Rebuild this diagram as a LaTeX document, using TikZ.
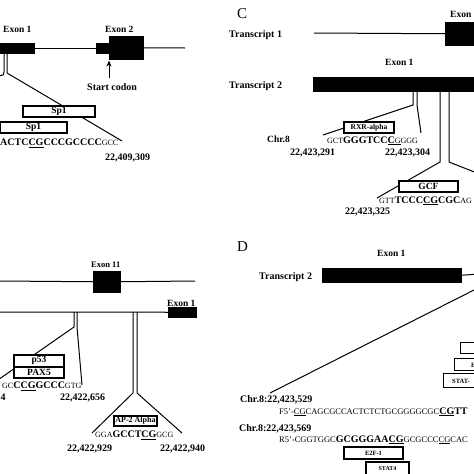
\documentclass[tikz,border=0pt]{standalone}
\usepackage{fontspec}
\setmainfont{Liberation Serif}
\usetikzlibrary{arrows.meta}
\newcommand\fsz[1]{\fontsize{#1}{#1}\selectfont}
\newcommand\bseq[1]{{\fsz{10}\bfseries #1}}
\newcommand\sseq[1]{{\fsz{8}#1}}
\newcommand\dseq[1]{{\fsz{8.5}#1}}
\newcommand\ucg[1]{\underline{#1}}
\tikzset{
  ln/.style={line width=1pt},
  exon/.style={fill=black,draw=black,line width=0.5pt,inner sep=0pt,anchor=north west},
  tf/.style={draw=black,line width=1.1pt,fill=white,inner sep=0pt},
  lbl/.style={anchor=base west,inner sep=0pt,font=\bfseries\fsz{9.5}},
  num/.style={anchor=base west,inner sep=0pt,font=\bfseries\fsz{10}},
  seq/.style={anchor=base west,inner sep=0pt},
  panel/.style={anchor=base west,inner sep=0pt,font=\fsz{15}},
  arr/.style={line width=1pt,-{Stealth[length=6pt,width=5pt]}}
}
\begin{document}
\begin{tikzpicture}[x=1pt,y=-1pt]
\clip (0,0) rectangle (474,474);
\fill[white] (0,0) rectangle (474,474);

% ---------------- Panel A (top left) ----------------
\coordinate (aEnd) at (185,48);
\coordinate (aV1t) at (4,53);
\coordinate (aV1b) at (4,72);
\coordinate (aV1e) at (-2,76);
\coordinate (aV2t) at (7,53);
\coordinate (aV2b) at (7,73);
\coordinate (aV2e) at (122,141);
\coordinate (aArr) at (109,78);
\coordinate (aArrTip) at (109,60.5);
\draw[ln] (aV1t) -- (aV1b) .. controls (4,75) .. (aV1e);
\draw[ln] (aV2t) -- (aV2b) -- (aV2e);
\node[exon,minimum width=34pt,minimum height=10pt] (aE1) at (0,43) {};
\node[exon,minimum width=14pt,minimum height=10pt] (aE2s) at (96,43) {};
\node[exon,minimum width=34pt,minimum height=23pt] (aE2) at (109,36) {};
\draw[ln] (aE1.east) -- (aE2s.west);
\draw[ln] (aE2.east) -- (aEnd);
\draw[arr] (aArr) -- (aArrTip);
\node[lbl] (aL1) at (3,32.5) {Exon 1};
\node[lbl] (aL2) at (105,32.5) {Exon 2};
\node[lbl,font=\bfseries\fsz{10}] (aSC) at (87,90.5) {Start codon};
\node[tf,minimum width=72pt,minimum height=11pt,font=\bfseries\fsz{9.5}] (aSp1a) at (59,111.5) {Sp1};
\node[tf,minimum width=67pt,minimum height=11pt,font=\bfseries\fsz{9.5}] (aSp1b) at (33.5,127.5) {Sp1};
\node[seq] (aSeq) at (0,145.5) {\bseq{ACTC\ucg{CG}CCCGCCCC}\sseq{GCC}};
\node[num] (aN) at (105,160.5) {22,409,309};

% ---------------- Panel C (top right) ----------------
\node[panel] (cLet) at (237,18) {C};
\node[lbl,font=\bfseries\fsz{10}] (cT1) at (229,37) {Transcript 1};
\coordinate (cT1s) at (314,33);
\node[exon,minimum width=40pt,minimum height=23pt] (cE) at (445,22) {};
\draw[ln] (cT1s) -- (cE.west);
\node[lbl] (cEl) at (450,17) {Exon};
\node[lbl] (cE1l) at (385,65) {Exon 1};
\node[lbl,font=\bfseries\fsz{10}] (cT2) at (229,88) {Transcript 2};
\coordinate (c1t) at (413,91); \coordinate (c1m) at (413,105); \coordinate (c1e) at (323,135);
\coordinate (c2t) at (417,91); \coordinate (c2m) at (417,105); \coordinate (c2e) at (421,133);
\coordinate (c3t) at (440,91); \coordinate (c3m) at (440,162); \coordinate (c3e) at (377,198);
\coordinate (c4t) at (449,91); \coordinate (c4m) at (449,162); \coordinate (c4e) at (482,175);
\draw[ln] (c1t) -- (c1m) -- (c1e);
\draw[ln] (c2t) -- (c2m) -- (c2e);
\draw[ln] (c3t) -- (c3m) -- (c3e);
\draw[ln] (c4t) -- (c4m) -- (c4e);
\node[exon,minimum width=170pt,minimum height=14pt] (cE1) at (313,77) {};
\node[tf,minimum width=50pt,minimum height=11pt,font=\bfseries\fsz{7.5}] (cRXR) at (369,127.5) {RXR-alpha};
\node[tf,minimum width=59pt,minimum height=11pt,font=\bfseries\fsz{9.5}] (cGCF) at (428.5,186.5) {GCF};
\node[num,font=\bfseries\fsz{9.5}] (cChr) at (267,142) {Chr.8};
\node[seq] (cSeq1) at (327,143) {\sseq{GCT}\bseq{GGGTCC}\underline{\bseq{C}\sseq{G}}\sseq{GGG}};
\node[num] (cN1) at (290,155) {22,423,291};
\node[num] (cN2) at (385,155) {22,423,304};
\node[seq] (cSeq2) at (379,203) {\sseq{GTT}\bseq{TCCC\ucg{CG}CGC}\sseq{AG}};
\node[num] (cN3) at (345,214) {22,423,325};

% ---------------- Panel B (bottom left) ----------------
\node[lbl,font=\bfseries\fsz{8.5}] (bL11) at (91,267) {Exon 11};
\coordinate (bL1s) at (0,281);
\coordinate (bL1e) at (195,281);
\coordinate (bL2s) at (0,312);
\node[exon,minimum width=27pt,minimum height=21pt] (bE11) at (93,271) {};
\node[exon,minimum width=28pt,minimum height=10pt] (bE1) at (168,307) {};
\draw[ln] (bL1s) -- (bE11.west);
\draw[ln] (bE11.east) -- (bL1e);
\draw[ln] (bL2s) -- (bE1.west);
\node[lbl] (bL1) at (167,306) {Exon 1};
\coordinate (b1t) at (74,312); \coordinate (b1m) at (74,327); \coordinate (b1e) at (0,378.5);
\coordinate (b2t) at (77,312); \coordinate (b2m) at (77,327); \coordinate (b2e) at (82,385);
\coordinate (b3t) at (133,312); \coordinate (b3m) at (133,393); \coordinate (b3e) at (92,433);
\coordinate (b4t) at (137,312); \coordinate (b4m) at (137,393); \coordinate (b4e) at (182,433);
\draw[ln] (b1t) -- (b1m) -- (b1e);
\draw[ln] (b2t) -- (b2m) -- (b2e);
\draw[ln] (b3t) -- (b3m) -- (b3e);
\draw[ln] (b4t) -- (b4m) -- (b4e);
\node[tf,minimum width=50pt,minimum height=11.5pt,font=\bfseries\fsz{9.5}] (bP53) at (39,360.75) {p53};
\node[tf,minimum width=50pt,minimum height=11.5pt,font=\bfseries\fsz{9.5}] (bPAX) at (39,372.25) {PAX5};
\draw[line width=2.2pt] (bP53.south west) -- (bP53.south east);
\node[seq] (bSeq1) at (2,388.5) {\sseq{GC}\bseq{C\ucg{CG}GCCC}\sseq{GTG}};
\node[num] (bN0) at (0.5,400) {4};
\node[num] (bN1) at (60,400) {22,422,656};
\node[tf,minimum width=43pt,minimum height=10pt,font=\bfseries\fsz{8}] (bAP) at (135.5,421) {AP-2 Alpha};
\node[seq] (bSeq2) at (95,437.5) {\sseq{GGA}\bseq{GCCT\ucg{CG}}\sseq{GCG}};
\node[num] (bN2) at (67,451) {22,422,929};
\node[num] (bN3) at (160,451) {22,422,940};

% ---------------- Panel D (bottom right) ----------------
\node[panel] (dLet) at (237,251.5) {D};
\node[lbl] (dE1l) at (377,256) {Exon 1};
\node[lbl,font=\bfseries\fsz{10}] (dT2) at (259,279) {Transcript 2};
\node[exon,minimum width=139pt,minimum height=14pt] (dE1) at (322,268) {};
\coordinate (dLe) at (480,274);
\draw[ln] (dE1.east) -- (dLe);
\coordinate (dDs) at (480,287);
\coordinate (dDe) at (270,393);
\draw[ln] (dDs) -- (dDe);
\node[tf,minimum width=24pt,minimum height=11pt,anchor=north west] (dB1) at (460,342) {};
\node[tf,minimum width=30pt,minimum height=12pt,anchor=north west] (dB2) at (454,358) {};
\node[tf,minimum width=41pt,minimum height=14pt,anchor=north west] (dB3) at (443,373) {};
\node[anchor=base west,inner sep=0pt,font=\bfseries\fsz{6.5}] (dB2t) at (471,367) {E};
\node[anchor=base west,inner sep=0pt,font=\bfseries\fsz{6.5}] (dB3t) at (452,383) {STAT-};
\node[num] (dC1) at (240,402) {Chr.8:22,423,529};
\node[seq] (dF) at (279,414) {\dseq{F5'-\ucg{CG}CAGCGCCACTCTCTGCGGGGCGC}\bseq{\ucg{CG}TT}};
\node[num] (dC2) at (239,431) {Chr.8:22,423,569};
\node[seq] (dR) at (279,442) {\dseq{R5'-CGGTGGC}\bseq{GCGGGAA\ucg{CG}}\dseq{GCGCCC\ucg{CG}CAC}};
\node[tf,minimum width=59pt,minimum height=12pt,font=\bfseries\fsz{6.5}] (dE2F) at (373.5,453) {E2F-1};
\node[tf,minimum width=43pt,minimum height=14pt,font=\bfseries\fsz{6}] (dSTAT) at (387.5,469) {STAT4};
\end{tikzpicture}
\end{document}
